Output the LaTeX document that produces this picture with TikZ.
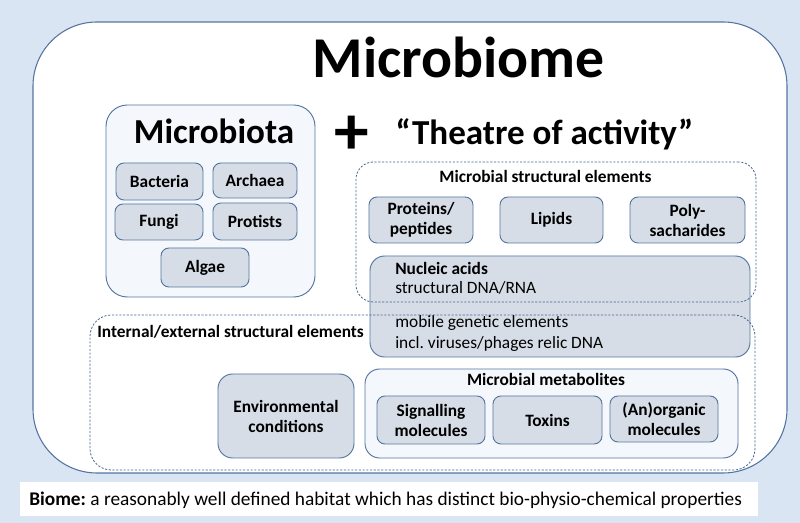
\documentclass[tikz,border=0pt]{standalone}
\usepackage{fontspec}
\setmainfont{Carlito}
\frenchspacing
\definecolor{bgblue}{RGB}{218,229,243}
\definecolor{edge}{RGB}{84,117,160}
\definecolor{boxfill}{RGB}{214,221,231}
\definecolor{palefill}{RGB}{244,247,251}
\definecolor{dashcol}{RGB}{70,100,145}
\tikzset{
  wh/.style 2 args={minimum width=#1*0.75pt, minimum height=#2*0.75pt, inner sep=0pt},
  container/.style={draw=edge, line width=0.8pt, fill=white, rounded corners=48pt},
  groupbox/.style={draw=edge, line width=0.7pt, fill=palefill, rounded corners=15pt},
  itembox/.style={draw=edge, line width=0.7pt, fill=boxfill, rounded corners=6pt,
    align=center, font=\fontsize{13}{15}\selectfont\bfseries},
  bigitem/.style={draw=edge, line width=0.7pt, fill=boxfill, rounded corners=11pt},
  dashbox/.style={draw=dashcol, line width=0.6pt, dash pattern=on 1.6pt off 1.2pt, rounded corners=13pt},
  label/.style={inner sep=0pt, anchor=base},
}
\begin{document}
\begin{tikzpicture}[x=0.75pt,y=-0.75pt]
\fill[bgblue] (0,0) rectangle (800,523);
\useasboundingbox (0,0) rectangle (800,523);

% outer container
\node[container, wh={754}{451}] (outer) at (410,247.5) {};
\node[label, font=\fontsize{43.3}{50}\selectfont\bfseries] (title) at (458.5,78) {Microbiome};

% Microbiota group
\node[groupbox, rounded corners=16pt, wh={209}{192}] (mbiota) at (210.5,201) {};
\node[label, font=\fontsize{26.3}{30}\selectfont\bfseries] (mbiotat) at (214,144) {Microbiota};
\node[itembox, wh={87}{37}] (bact) at (159.5,181.5) {Bacteria};
\node[itembox, wh={84}{35}] (arch) at (255,180.5) {Archaea};
\node[itembox, wh={88}{36}] (fungi) at (159,222) {Fungi};
\node[itembox, wh={84}{37}] (prot) at (255,221.5) {Protists};
\node[itembox, wh={88}{39}] (algae) at (205,267.5) {Algae};

\node[label, font=\fontsize{52}{56}\selectfont\bfseries] (plus) at (352,155) {+};
\node[label, font=\fontsize{26.3}{32}\selectfont\bfseries] (theatre) at (544.5,145) {“Theatre of activity”};

% structural elements
\node[itembox, wh={104}{46}] (prot2) at (421,220) {Proteins/\\peptides};
\node[itembox, wh={103}{46}] (lipid) at (551.5,220) {Lipids};
\node[itembox, wh={115}{46}] (poly) at (687.5,220) {Poly-\\sacharides};
\node[label, font=\fontsize{13}{15}\selectfont\bfseries] (mset) at (545.5,183) {Microbial structural elements};

% nucleic acids
\node[bigitem, wh={380}{101}] (nucl) at (560,306.5) {};
\node[label, anchor=base west, font=\fontsize{13}{15}\selectfont\bfseries] (nucl1) at (395,275) {Nucleic acids};
\node[label, anchor=base west, font=\fontsize{13}{15}\selectfont] (nucl2) at (395,294) {structural DNA/RNA};
\node[label, anchor=base west, font=\fontsize{13}{15}\selectfont] (nucl3) at (395,328) {mobile genetic elements};
\node[label, anchor=base west, font=\fontsize{13}{15}\selectfont] (nucl4) at (395,349) {incl. viruses/phages relic DNA};

% environmental + metabolites
\node[itembox, rounded corners=11pt, wh={136}{84}] (env) at (286,416) {Environmental\\conditions};
\node[groupbox, rounded corners=11pt, wh={373}{89}] (metab) at (551.5,413.5) {};
\node[label, font=\fontsize{13}{15}\selectfont\bfseries] (metabt) at (546,386) {Microbial metabolites};
\node[itembox, wh={108}{48}] (sig) at (431,420) {Signalling\\molecules};
\node[itembox, wh={109}{48}] (tox) at (547.5,420) {Toxins};
\node[itembox, wh={108}{46}] (anorg) at (664,419) {(An)organic\\molecules};

% dashed groups (on top)
\node[dashbox, wh={400}{140}] (structgrp) at (556,232) {};
\node[dashbox, rounded corners=16pt, wh={665}{155}] (intgrp) at (422.5,392.5) {};
\node[label, anchor=base west, font=\fontsize{13}{15}\selectfont\bfseries] (intt) at (97,338) {Internal/external structural elements};

% bottom definition
\node[fill=white, wh={738}{34}] (biomebox) at (389,499) {};
\node[label, anchor=base west, font=\fontsize{14.5}{17}\selectfont] (biomet) at (29,506) {\textbf{Biome:} a reasonably well defined habitat which has distinct bio-physio-chemical properties};
\end{tikzpicture}
\end{document}
